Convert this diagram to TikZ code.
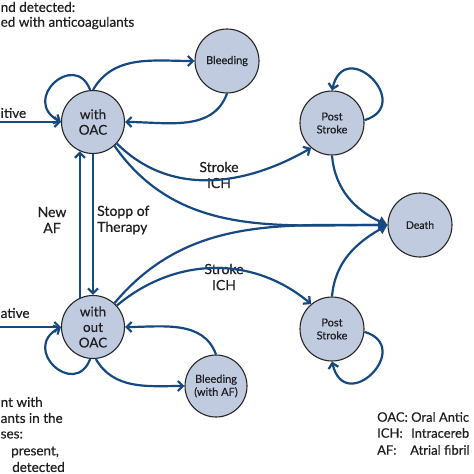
\documentclass[tikz,border=0pt]{standalone}
\usepackage{fontspec}
\setmainfont{Lato}[FakeBold=0.4]
\usetikzlibrary{arrows.meta}
\definecolor{eb}{RGB}{22,72,130}
\definecolor{nf}{RGB}{192,203,224}
\definecolor{tx}{RGB}{30,30,35}
\begin{document}
\begin{tikzpicture}[x=1pt,y=-1pt,
 st/.style={circle,draw=black!85,line width=1.1pt,fill=nf,minimum size=64pt,inner sep=0pt,align=center,text=tx,font=\fontsize{11}{13}\selectfont},
 big/.style={font=\fontsize{13.5}{15.5}\selectfont},
 ed/.style={draw=eb,line width=2.2pt,-{Straight Barb[length=5pt,width=10pt]}},
 edd/.style={draw=eb,line width=2.2pt,-{Triangle[length=9pt,width=10pt]}},
 lab/.style={align=center,inner sep=0pt,text=tx,font=\fontsize{14}{16}\selectfont},
 txt/.style={inner sep=0pt,text=tx,font=\fontsize{13.5}{16}\selectfont}]
\useasboundingbox (0,0) rectangle (474,474);
\clip (0,0) rectangle (474,474);
% states
\node[st,big,minimum size=63pt] (oac) at (93,122) {with\\OAC};
\node[st] (bleed) at (227,61) {Bleeding};
\node[st] (ps1) at (332,123) {Post\\Stroke};
\node[st,font=\fontsize{10.5}{12}\selectfont] (death) at (420,225) {Death};
\node[st,big,minimum size=63pt] (woac) at (93,327) {with\\out\\OAC};
\node[st] (ps2) at (332,329) {Post\\Stroke};
\node[st,minimum size=62pt] (bleedaf) at (216,386) {Bleeding\\(with AF)};
% free ends
\coordinate (inA) at (0,122);
\coordinate (inB) at (0,327);
% texts
\node[txt,anchor=west] (t1) at (0.5,7) {nd detected:};
\node[txt,anchor=west] (t2) at (0.5,23) {ed with anticoagulants};
\node[txt,anchor=west] (t3) at (0.5,113) {itive};
\node[txt,anchor=west] (t4) at (0.5,313) {ative};
\node[txt,anchor=west] (b1) at (0.5,402) {nt with};
\node[txt,anchor=west] (b2) at (0.5,418) {ants in the};
\node[txt,anchor=west] (b3) at (0.5,435) {ses:};
\node[txt,anchor=west] (b4) at (11,452) {present,};
\node[txt,anchor=west] (b5) at (12,467) {detected};
\node[txt,anchor=west,font=\fontsize{13}{15}\selectfont] (l1) at (377,417) {OAC:};
\node[txt,anchor=west,font=\fontsize{13}{15}\selectfont] (l1b) at (411,417) {Oral Antic};
\node[txt,anchor=west,font=\fontsize{13}{15}\selectfont] (l2) at (377,433) {ICH:};
\node[txt,anchor=west,font=\fontsize{13}{15}\selectfont] (l2b) at (411,433) {Intracereb};
\node[txt,anchor=west,font=\fontsize{13}{15}\selectfont] (l3) at (377,450) {AF:};
\node[txt,anchor=west,font=\fontsize{13}{15}\selectfont] (l3b) at (410,450) {Atrial fibril};
\node[lab] (newaf) at (52,220) {New\\AF};
\node[lab,align=left,anchor=west] (stopp) at (97,220) {Stopp of\\Therapy};
\node[lab] (s1) at (219,175) {Stroke\\ICH};
\node[lab] (s2) at (224,277) {Stroke\\ICH};
% edges
\draw[ed] (inA) -- (oac.west);
\draw[ed] (inB) -- (woac.west);
\draw[ed] (oac.95) .. controls (75,50) and (20,100) .. (oac.west);
\draw[ed] (oac.north) to[out=60,in=180] (bleed.west);
\draw[ed] (bleed.south) to[out=-110,in=0] (oac.east);
\draw[ed] (oac.south) -- (woac.north);
\draw[ed] (woac.114) -- (oac.246);
\draw[ed] (oac.-42) to[out=-45,in=-150] (ps1.-130);
\draw[edd] (oac.-48) to[out=-55,in=180] (death.west);
\draw[edd] (woac.48) to[out=50,in=180] (death.west);
\draw[ed] (woac.42) to[out=40,in=140] (ps2.130);
\draw[edd] (ps1.south) to[out=-85,in=155] (death.west);
\draw[edd] (ps2.north) to[out=85,in=210] (death.west);
\draw[ed] (ps1.5) .. controls (415,105) and (345,35) .. (ps1.north);
\draw[ed] (ps2.-5) .. controls (415,347) and (345,417) .. (ps2.south);
\draw[ed] (woac.-95) .. controls (75,399) and (20,349) .. (woac.west);
\draw[ed] (woac.-85) to[out=-60,in=180] (bleedaf.west);
\draw[ed] (bleedaf.north) to[out=110,in=0] (woac.east);
\end{tikzpicture}
\end{document}
